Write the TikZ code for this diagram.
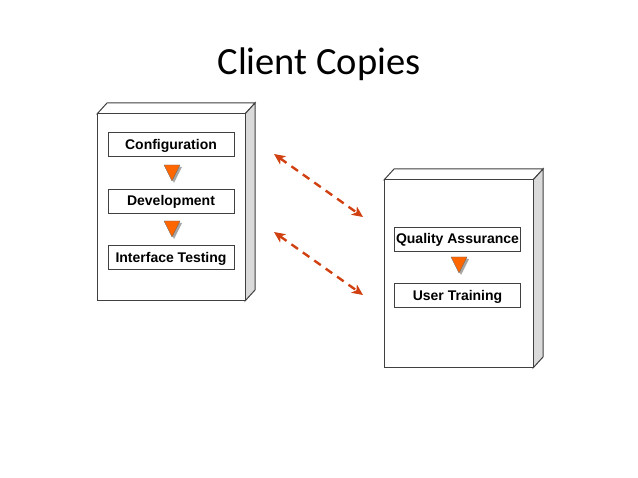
\documentclass[tikz,border=0pt]{standalone}
\usepackage{fontspec}
\setmainfont{Liberation Sans}
\newfontfamily\titlefont{Carlito}
\usetikzlibrary{arrows.meta}
\definecolor{arrowred}{HTML}{D04010}
\definecolor{triorange}{HTML}{FF6600}
\definecolor{sidegray}{HTML}{DADADA}
\tikzset{
  stepbox/.style={draw=black!75, line width=0.8pt, fill=white, minimum width=126pt, minimum height=24pt, inner sep=0pt, text height=10pt, text depth=0pt, font=\fontsize{14}{16}\selectfont\bfseries},
  link/.style={draw=arrowred, line width=2.4pt, dash pattern=on 8pt off 6pt, {Stealth[inset=3pt,length=11pt,width=10pt]}-{Stealth[inset=3pt,length=11pt,width=10pt]}},
  boxline/.style={draw=black!75, line width=1pt}
}
\newcommand{\mynodebox}[4]{% left, top, right, bottom (y down)
  \fill[white, boxline] (#1,#2) -- (#1+10,#2-11) -- (#3+10,#2-11) -- (#3,#2) -- cycle;
  \fill[sidegray, boxline] (#3,#2) -- (#3+10,#2-11) -- (#3+10,#4-11) -- (#3,#4) -- cycle;
  \draw[fill=white, boxline] (#1,#2) rectangle (#3,#4);
}
\newcommand{\mytri}[2]{% center x, top y
  \fill[gray!70] (#1-8+2,#2+2) -- (#1+8+2,#2+2) -- (#1+2,#2+16+2) -- cycle;
  \draw[fill=triorange, draw=black!60, line width=0.3pt] (#1-8,#2) -- (#1+8,#2) -- (#1,#2+16) -- cycle;
}
\begin{document}
\begin{tikzpicture}[x=1pt,y=-1pt]
\useasboundingbox (0,0) rectangle (638,478);
\node[font=\titlefont\fontsize{38.5}{44}\selectfont, anchor=base] (title) at (319,75) {Client Copies};
% left node
\mynodebox{97}{114}{245}{301}
\node[stepbox] (config) at (171,144.5) {Configuration};
\node[stepbox] (dev) at (171,201) {Development};
\node[stepbox] (itest) at (171,257.5) {Interface Testing};
\mytri{172}{165}
\mytri{172}{221}
% right node
\mynodebox{384}{180}{533}{368}
\node[stepbox] (qa) at (457.5,239) {Quality Assurance};
\node[stepbox] (ut) at (457.5,295.5) {User Training};
\mytri{459}{257}
% links
\coordinate (a1) at (274,154);
\coordinate (b1) at (363,217);
\coordinate (a2) at (274,232);
\coordinate (b2) at (363,295);
\draw[link] (a1) -- (b1);
\draw[link] (a2) -- (b2);
\end{tikzpicture}
\end{document}
